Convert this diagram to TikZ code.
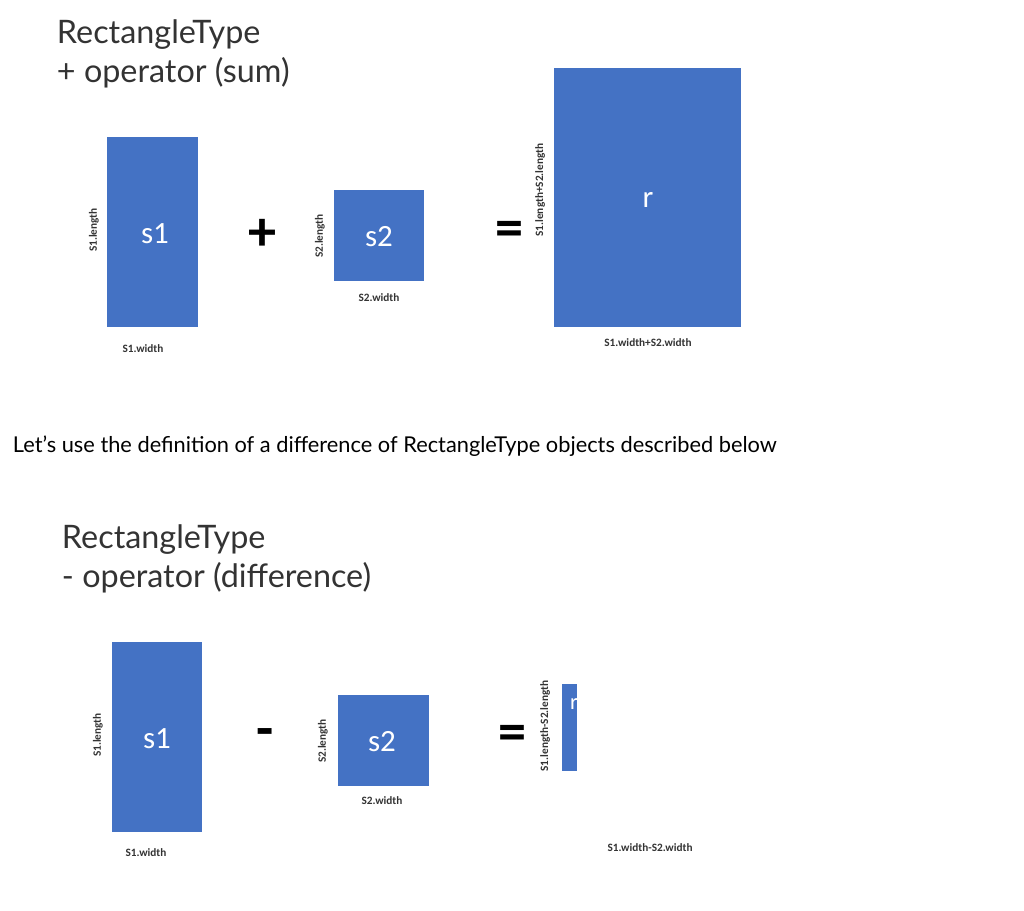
\documentclass[tikz,border=0pt]{standalone}
\usepackage{fontspec}
\setmainfont{Lato}
\newfontfamily\calfont{Carlito}
\definecolor{bl}{HTML}{4472C4}
\definecolor{tx}{HTML}{333333}
\begin{document}
\begin{tikzpicture}[x=0.025cm,y=-0.025cm,
 blab/.style={text=white,font=\calfont\fontsize{22}{24}\selectfont},
 dim/.style={font=\calfont\bfseries\fontsize{8}{9}\selectfont,text=tx},
 vdim/.style={dim,rotate=90},
 op/.style={font=\calfont\bfseries\fontsize{40}{40}\selectfont},
 ttl/.style={font=\fontsize{23}{28}\selectfont,text=tx,anchor=west,align=left}]
\useasboundingbox (0,0) rectangle (1024,910);
% top
\node[ttl] (t1) at (52,54) {RectangleType\\+ operator (sum)};
\fill[bl] (107,137) rectangle (198,327);
\node[blab] (s1) at (155,234) {s1};
\node[vdim] (l1) at (94,230) {S1.length};
\node[dim] (w1) at (143,349) {S1.width};
\node[op] (p) at (263,235) {+};
\fill[bl] (334,190) rectangle (424,281);
\node[blab] (s2) at (379,237) {s2};
\node[vdim] (l2) at (320,236) {S2.length};
\node[dim] (w2) at (379,298) {S2.width};
\node[op] (e1) at (509,234) {=};
\fill[bl] (554,68) rectangle (741,327);
\node[blab] (r1) at (648,200) {r};
\node[vdim] (l3) at (540,190) {S1.length+S2.length};
\node[dim] (w3) at (648,343) {S1.width+S2.width};
% text
\node[anchor=west,font=\fontsize{15.5}{18}\selectfont,text=black] (mid) at (8,446) {Let's use the definition of a difference of RectangleType objects described below};
% bottom
\node[ttl] (t2) at (57,559) {RectangleType\\- operator (difference)};
\fill[bl] (112,642) rectangle (202,832);
\node[blab] (s3) at (157,739) {s1};
\node[vdim] (l4) at (98,735) {S1.length};
\node[dim] (w4) at (146,853) {S1.width};
\node[op] (m) at (265,738) {-};
\fill[bl] (338,695) rectangle (429,786);
\node[blab] (s4) at (382,742) {s2};
\node[vdim] (l5) at (323,741) {S2.length};
\node[dim] (w5) at (382,801) {S2.width};
\node[op] (e2) at (512,738) {=};
\fill[bl] (562,684) rectangle (577,771);
\node[blab,font=\calfont\fontsize{16}{18}\selectfont] (r2) at (574,704) {r};
\node[vdim] (l6) at (545,726) {S1.length-S2.length};
\node[dim] (w6) at (650,848) {S1.width-S2.width};
\end{tikzpicture}
\end{document}
